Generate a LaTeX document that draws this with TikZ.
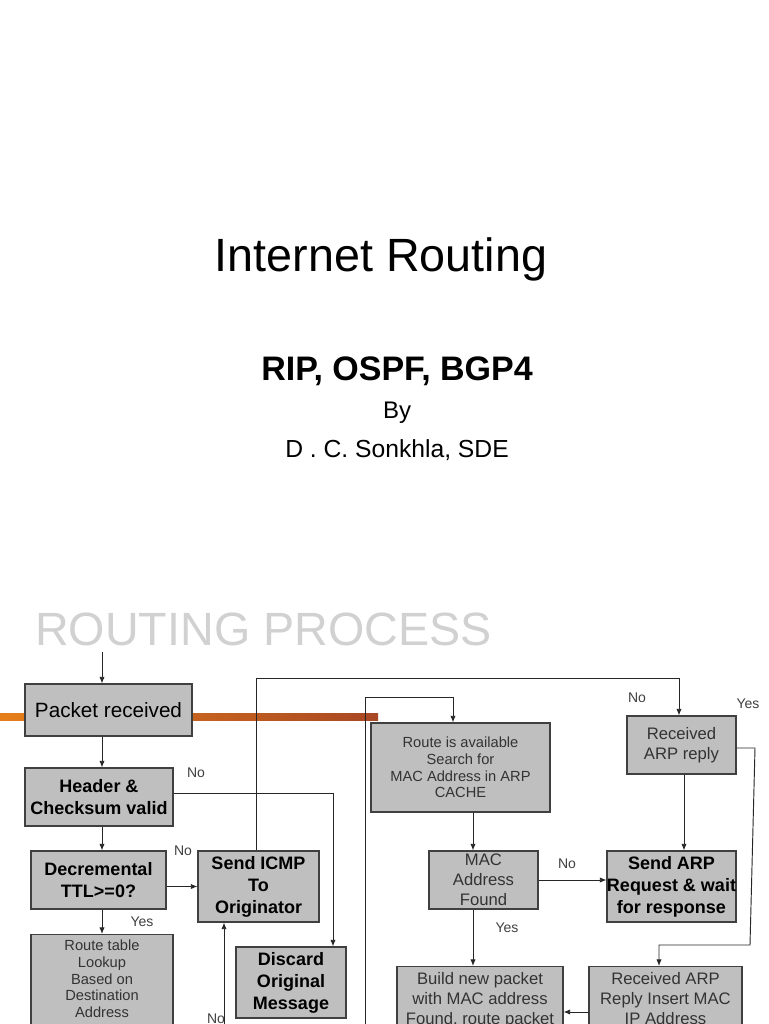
\documentclass[tikz,border=0pt]{standalone}
\usepackage{fontspec}
\setmainfont{Liberation Sans}
\usetikzlibrary{arrows.meta}
\begin{document}
\begin{tikzpicture}[x=0.75pt,y=-0.75pt,
  box/.style={draw=black!75,fill=black!25,line width=0.8pt,align=center,inner sep=0pt,text=black},
  sm/.style={box,font=\fontsize{11}{12.5}\selectfont,text=black!80},
  md/.style={box,font=\fontsize{12.5}{15}\selectfont,text=black!80},
  bd/.style={box,font=\fontsize{13.5}{16.5}\selectfont\bfseries},
  arr/.style={draw=black!85,line width=0.7pt,-{Latex[length=5pt,width=4pt]}},
  ln/.style={draw=black!85,line width=0.7pt},
  lab/.style={font=\fontsize{10.5}{12}\selectfont,text=black!75,inner sep=0pt}]
\useasboundingbox (0,0) rectangle (768,1024);
\clip (0,0) rectangle (768,1024);
\fill[white] (0,0) rectangle (768,1024);
% titles
\node[font=\fontsize{35}{40}\selectfont] (t1) at (381,259) {Internet Routing};
\node[font=\fontsize{25.5}{28}\selectfont\bfseries] (t2) at (397,371) {RIP, OSPF, BGP4};
\node[font=\fontsize{18}{20}\selectfont] (t3) at (397,413) {By};
\node[font=\fontsize{18.5}{20}\selectfont] (t4) at (397,450) {D . C. Sonkhla, SDE};
\node[font=\fontsize{35}{40}\selectfont,text=black!18,anchor=west,inner sep=0pt] (t5) at (35,629) {ROUTING PROCESS};
% decorative bar
\shade[left color=orange!60!brown,right color=brown!70!red!80!black] (0,713) rectangle (378,720);
% boxes
\node[box,font=\fontsize{15.5}{18}\selectfont,minimum width=167*0.75pt,minimum height=52*0.75pt] (pr) at (108.5,710) {Packet received};
\node[bd,minimum width=148*0.75pt,minimum height=58*0.75pt] (hc) at (99,797) {Header \&\\Checksum valid};
\node[bd,minimum width=135*0.75pt,minimum height=58*0.75pt] (dt) at (98.5,880) {Decremental\\TTL>=0?};
\node[sm,anchor=north,minimum width=142*0.75pt,minimum height=110*0.75pt] (rt) at (102,934) {Route table\\Lookup\\Based on\\Destination\\Address\\\strut};
\node[bd,minimum width=121*0.75pt,minimum height=71*0.75pt] (ic) at (258.5,886.5) {Send ICMP\\To\\Originator};
\node[bd,minimum width=110*0.75pt,minimum height=71*0.75pt] (dm) at (291,982.5) {Discard\\Original\\Message};
\node[sm,minimum width=179*0.75pt,minimum height=89*0.75pt] (ra) at (460.5,767.5) {Route is available\\Search for\\MAC Address in ARP\\CACHE};
\node[md,minimum width=109*0.75pt,minimum height=58*0.75pt] (mf) at (483.5,880) {MAC\\Address\\Found};
\node[bd,minimum width=129*0.75pt,minimum height=71*0.75pt] (sa) at (671.5,886.5) {Send ARP\\Request \& wait\\for response};
\node[md,minimum width=109*0.75pt,minimum height=58*0.75pt] (rr) at (681.5,745) {Received\\ARP reply};
\node[md,anchor=north,minimum width=166*0.75pt,minimum height=90*0.75pt] (bp) at (480,966) {Build new packet\\with MAC address\\Found, route packet\\\strut};
\node[md,anchor=north,minimum width=153*0.75pt,minimum height=90*0.75pt] (ri) at (665.5,966) {Received ARP\\Reply Insert MAC\\IP Address\\\strut};
% connectors
\coordinate (s0) at (102,652);
\draw[arr] (s0) -- (pr.north -| s0);
\draw[arr] (pr.south -| s0) -- (hc.north -| s0);
\draw[arr] (hc.south -| s0) -- (dt.north -| s0);
\draw[arr] (dt.south -| s0) -- (rt.north -| s0);
\coordinate (c1) at (333,793);
\draw[arr] (hc.east |- c1) -- (c1) -- (dm.north -| c1);
\draw[arr] (dt.east |- ic) -- (ic.west);
\coordinate (c2) at (256,678);
\coordinate (c3) at (679,678);
\draw[arr] (ic.north -| c2) -- (c2) -- (c3) -- (rr.north -| c3);
\coordinate (c4) at (365,1030);
\coordinate (c5) at (365,697);
\coordinate (c6) at (453,697);
\draw[arr] (c4) -- (c5) -- (c6) -- (ra.north -| c6);
\coordinate (c7) at (224,1030);
\draw[arr] (c7) -- (ic.south -| c7);
\coordinate (c8) at (473,812);
\draw[arr] (ra.south -| c8) -- (mf.north -| c8);
\draw[arr] (mf.south -| c8) -- (bp.north -| c8);
\draw[arr] (mf.east) -- (sa.west |- mf);
\coordinate (c9) at (684,774);
\draw[arr] (rr.south -| c9) -- (sa.north -| c9);
\coordinate (d1) at (755,748);
\coordinate (d2) at (750,945);
\coordinate (d3) at (659,945);
\draw[arr] (rr.east |- d1) -- (d1) -- (d2) -- (d3) -- (ri.north -| d3);
\coordinate (d4) at (589,1012);
\draw[arr] (d4) -- (bp.east |- d4);
% labels
\node[lab] (l1) at (196,773) {No};
\node[lab] (l2) at (183,851) {No};
\node[lab] (l3) at (142,922) {Yes};
\node[lab] (l4) at (637,698) {No};
\node[lab] (l5) at (748,704) {Yes};
\node[lab] (l6) at (567,864) {No};
\node[lab] (l7) at (507,928) {Yes};
\node[lab] (l8) at (216,1019) {No};
\end{tikzpicture}
\end{document}
